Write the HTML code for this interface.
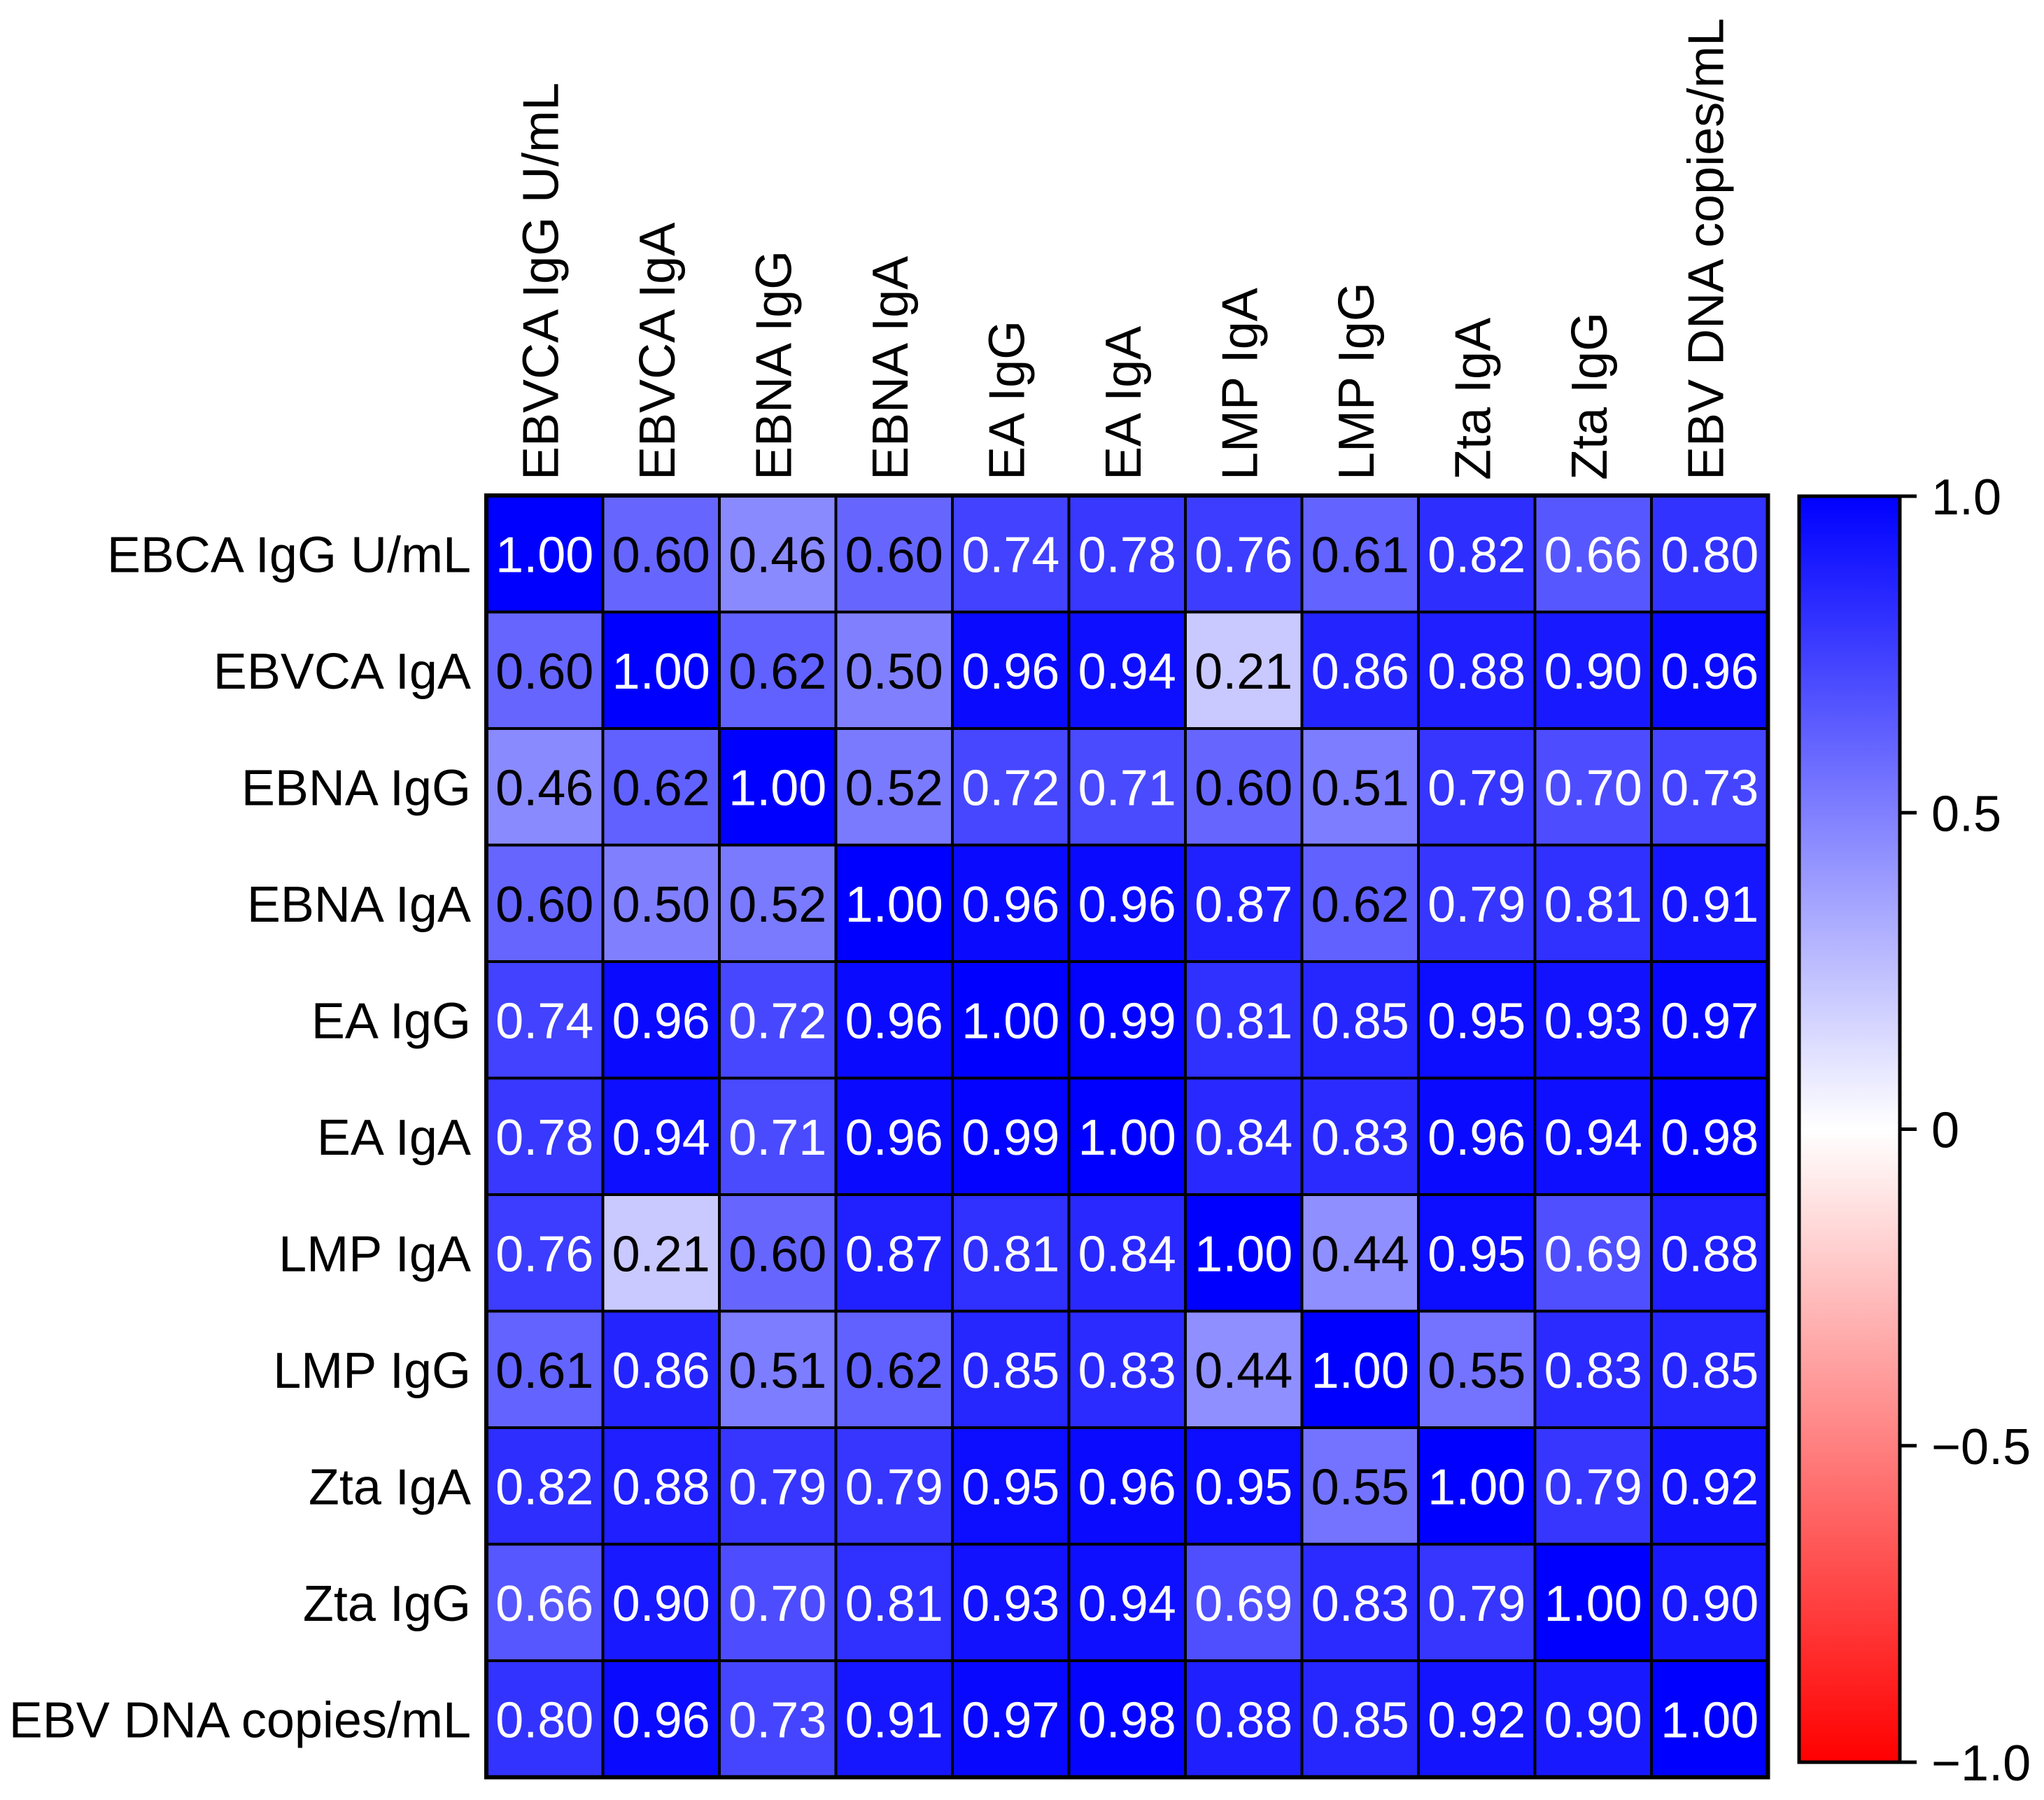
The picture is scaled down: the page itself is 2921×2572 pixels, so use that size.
<!DOCTYPE html>
<html><head><meta charset="utf-8"><style>
html,body{margin:0;padding:0;background:#fff;}
svg{display:block;font-family:"Liberation Sans",Arial,sans-serif;}
</style></head><body>
<svg id="chart" width="2921" height="2572" viewBox="0 0 2921 2572" xmlns="http://www.w3.org/2000/svg">
<defs>
<linearGradient id="cbgrad" x1="0" y1="0" x2="0" y2="1">
<stop offset="0" stop-color="#0000ff"/><stop offset="0.5" stop-color="#ffffff"/><stop offset="1" stop-color="#ff0000"/>
</linearGradient>
</defs>
<g id="cells"></g>
<g id="rowlabels"></g>
<g id="collabels"></g>
<g id="colorbar"></g>
</svg>
<script>
const rowLabels = ["EBCA IgG U/mL","EBVCA IgA","EBNA IgG","EBNA IgA","EA IgG","EA IgA","LMP IgA","LMP IgG","Zta IgA","Zta IgG","EBV DNA copies/mL"];
const colLabels = ["EBVCA IgG U/mL","EBVCA IgA","EBNA IgG","EBNA IgA","EA IgG","EA IgA","LMP IgA","LMP IgG","Zta IgA","Zta IgG","EBV DNA copies/mL"];
const row0 = [1.00,0.60,0.46,0.60,0.74,0.78,0.76,0.61,0.82,0.66,0.80];
const row1 = [0.60,1.00,0.62,0.50,0.96,0.94,0.21,0.86,0.88,0.90,0.96];
const row2 = [0.46,0.62,1.00,0.52,0.72,0.71,0.60,0.51,0.79,0.70,0.73];
const row3 = [0.60,0.50,0.52,1.00,0.96,0.96,0.87,0.62,0.79,0.81,0.91];
const row4 = [0.74,0.96,0.72,0.96,1.00,0.99,0.81,0.85,0.95,0.93,0.97];
const row5 = [0.78,0.94,0.71,0.96,0.99,1.00,0.84,0.83,0.96,0.94,0.98];
const row6 = [0.76,0.21,0.60,0.87,0.81,0.84,1.00,0.44,0.95,0.69,0.88];
const row7 = [0.61,0.86,0.51,0.62,0.85,0.83,0.44,1.00,0.55,0.83,0.85];
const row8 = [0.82,0.88,0.79,0.79,0.95,0.96,0.95,0.55,1.00,0.79,0.92];
const row9 = [0.66,0.90,0.70,0.81,0.93,0.94,0.69,0.83,0.79,1.00,0.90];
const row10 = [0.80,0.96,0.73,0.91,0.97,0.98,0.88,0.85,0.92,0.90,1.00];
const values = [row0,row1,row2,row3,row4,row5,row6,row7,row8,row9,row10];
const cbTicks = [1.0,0.5,0,-0.5,-1.0];
const cbTickLabels = ["1.0","0.5","0","\u22120.5","\u22121.0"];

const NS="http://www.w3.org/2000/svg";
const X0=695, Y0=708, CW=166.5, CH=166.5;
const xPos=i=>X0+i*CW, yPos=j=>Y0+j*CH;
const CB_X=2571, CB_W=144, CB_TOP=709, CB_BOT=2518;
const cbY=v=>CB_TOP+(1-v)/2*(CB_BOT-CB_TOP);
function color(v){
  let r,g,b;
  if(v>=0){const w=Math.round(255*(1-v));r=w;g=w;b=255;}
  else{const w=Math.round(255*(1+v));r=255;g=w;b=w;}
  return `rgb(${r},${g},${b})`;
}
function mk(tag,attrs){const e=document.createElementNS(NS,tag);for(const k in attrs)e.setAttribute(k,attrs[k]);return e;}
const cells=document.getElementById('cells');
values.forEach((row,j)=>{
  row.forEach((v,i)=>{
    const r=mk('rect',{x:xPos(i),y:yPos(j),width:CW,height:CH,fill:color(v),stroke:'#000','stroke-width':4});
    
    
    cells.appendChild(r);
    const t=mk('text',{x:xPos(i)+CW/2,y:yPos(j)+CH/2+26,'text-anchor':'middle','font-size':72,fill:v>=0.65?'#fff':'#000'});
    
    
    t.textContent=v.toFixed(2);
    cells.appendChild(t);
  });
});
const border=mk('rect',{x:X0,y:Y0,width:CW*11,height:CH*11,fill:'none',stroke:'#000','stroke-width':6});


cells.appendChild(border);
const rl=document.getElementById('rowlabels');
rowLabels.forEach((s,j)=>{
  const t=mk('text',{x:673,y:yPos(j)+CH/2+26,'text-anchor':'end','font-size':72,fill:'#000'});
  
  
  t.textContent=s;rl.appendChild(t);
});
const cl=document.getElementById('collabels');
colLabels.forEach((s,i)=>{
  const cx=xPos(i)+CW/2+19, cy=686;
  const t=mk('text',{x:cx,y:cy,transform:`rotate(-90 ${cx} ${cy})`,'text-anchor':'start','font-size':72,fill:'#000'});
  
  
  t.textContent=s;cl.appendChild(t);
});
const cb=document.getElementById('colorbar');
const bar=mk('rect',{x:CB_X,y:CB_TOP,width:CB_W,height:CB_BOT-CB_TOP,fill:'url(#cbgrad)',stroke:'#000','stroke-width':5});


cb.appendChild(bar);
cbTicks.forEach((v,k)=>{
  const y=cbY(v);
  const l=mk('line',{x1:CB_X+CB_W,x2:CB_X+CB_W+24,y1:y,y2:y,stroke:'#000','stroke-width':5});
  
  
  cb.appendChild(l);
  const t=mk('text',{x:2760,y:y+26,'font-size':72,fill:'#000'});
  
  
  t.textContent=cbTickLabels[k];cb.appendChild(t);
});
</script>
</body></html>
